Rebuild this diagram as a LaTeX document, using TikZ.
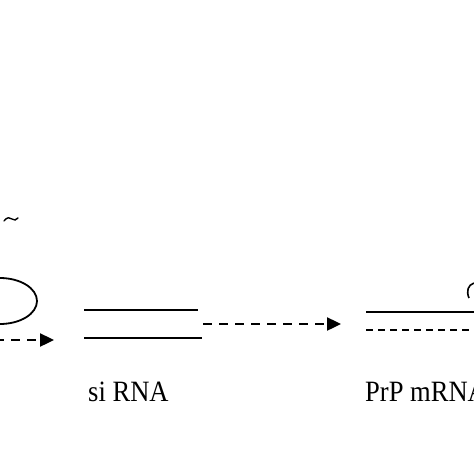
\documentclass[tikz,border=0pt]{standalone}
\usepackage{fontspec}
\usepackage{graphicx}
\usetikzlibrary{arrows.meta,shapes.geometric}
\setmainfont{Liberation Serif}
\tikzset{
  solidline/.style={line width=1.8pt, black},
  dashline/.style={line width=2.4pt, black, dash pattern=on 9pt off 7pt},
  finedash/.style={line width=2.2pt, black, dash pattern=on 7pt off 5pt},
  arrowdash/.style={dashline, -{Triangle[length=14pt,width=13pt]}},
  lab/.style={anchor=base west, inner sep=0pt}
}
\newcommand{\labtext}[1]{\fontsize{29.5}{32}\selectfont\scalebox{0.9}[1]{#1}}
\begin{document}
\begin{tikzpicture}[x=1pt,y=-1pt]
\useasboundingbox (0,0) rectangle (474,474);
\clip (0,0) rectangle (474,474);
% tilde
\draw[line width=1.4pt, line cap=round] (4,221) .. controls (7,217) and (10,217) .. (12,219) .. controls (14,221) and (16,220) .. (18,218);
% hairpin loop
\node[draw, solidline, ellipse, minimum width=74pt, minimum height=46pt, inner sep=0pt] (loop) at (0,301) {};
\coordinate (a1s) at (-5,340);
\coordinate (a1e) at (54,340);
\draw[arrowdash] (a1s) -- (a1e);
% siRNA duplex
\coordinate (s1a) at (84,310);
\coordinate (s1b) at (198,310);
\coordinate (s2a) at (84,338);
\coordinate (s2b) at (202,338);
\draw[solidline] (s1a) -- (s1b);
\draw[solidline] (s2a) -- (s2b);
\node[lab] (sirna) at (88,401) {\labtext{si RNA}};
% arrow to target
\coordinate (a2s) at (203,324);
\coordinate (a2e) at (341,324);
\draw[arrowdash] (a2s) -- (a2e);
% PrP mRNA
\coordinate (m1a) at (366,312);
\coordinate (m1b) at (480,312);
\coordinate (m2a) at (366,330);
\coordinate (m2b) at (480,330);
\draw[solidline] (m1a) -- (m1b);
\draw[finedash] (m2a) -- (m2b);
\node[lab] (prp) at (365,401) {\labtext{PrP mRNA}};
% curl at right edge
\coordinate (c1) at (469,298);
\coordinate (c2) at (474,283);
\draw[line width=1.6pt] (c1) .. controls (466,291) and (468,285) .. (c2);
\end{tikzpicture}
\end{document}
